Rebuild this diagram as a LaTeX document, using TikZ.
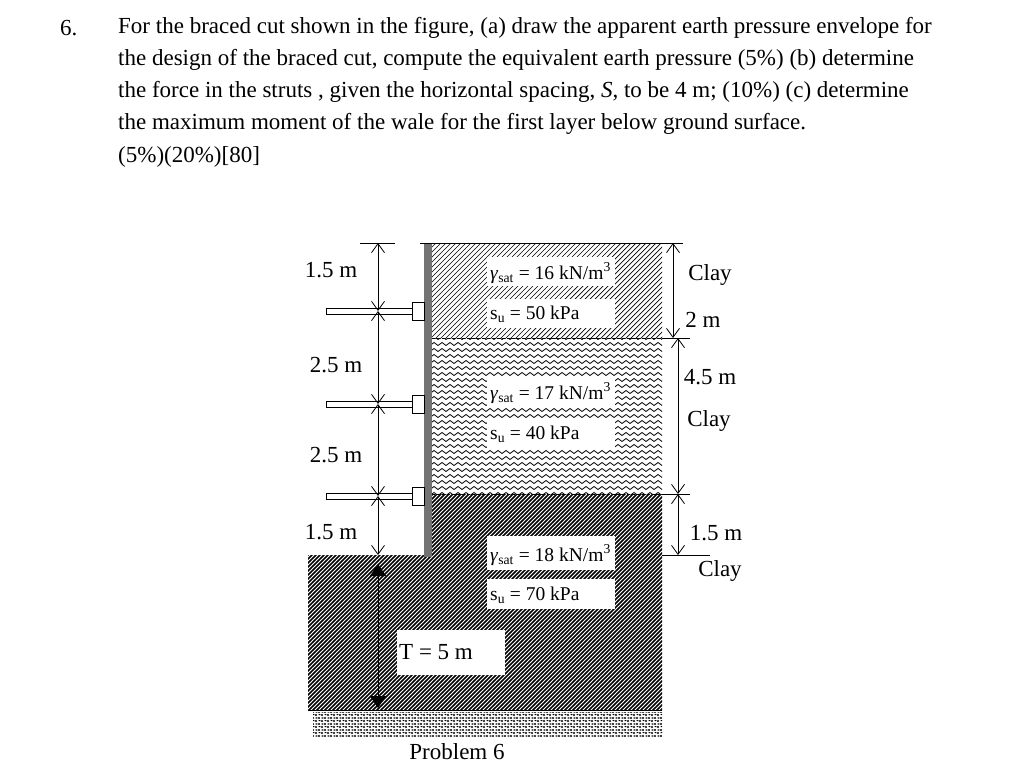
\documentclass[tikz,border=0pt]{standalone}
\usepackage{fontspec}
\setmainfont{Liberation Serif}
\usetikzlibrary{patterns,arrows.meta}
\pgfdeclarepatternformonly{wavy}{\pgfpoint{-1pt}{-1pt}}{\pgfpoint{9pt}{7pt}}{\pgfpoint{8pt}{6pt}}{%
  \pgfsetlinewidth{0.8pt}%
  \pgfpathmoveto{\pgfpoint{0pt}{3pt}}%
  \pgfpathcurveto{\pgfpoint{1.3pt}{5pt}}{\pgfpoint{2.7pt}{5pt}}{\pgfpoint{4pt}{3pt}}%
  \pgfpathcurveto{\pgfpoint{5.3pt}{1pt}}{\pgfpoint{6.7pt}{1pt}}{\pgfpoint{8pt}{3pt}}%
  \pgfusepath{stroke}}
\pgfdeclarepatternformonly{denseNE}{\pgfpoint{-1pt}{-1pt}}{\pgfpoint{5pt}{5pt}}{\pgfpoint{4pt}{4pt}}{%
  \pgfsetlinewidth{1.6pt}%
  \pgfpathmoveto{\pgfpoint{0pt}{0pt}}\pgfpathlineto{\pgfpoint{4.1pt}{4.1pt}}%
  \pgfusepath{stroke}}
\pgfdeclarepatternformonly{lightNE}{\pgfpoint{-1pt}{-1pt}}{\pgfpoint{6pt}{6pt}}{\pgfpoint{5pt}{5pt}}{%
  \pgfsetlinewidth{0.7pt}%
  \pgfpathmoveto{\pgfpoint{0pt}{0pt}}\pgfpathlineto{\pgfpoint{5.1pt}{5.1pt}}%
  \pgfusepath{stroke}}
\pgfdeclarepatternformonly{gravel}{\pgfpoint{-1pt}{-1pt}}{\pgfpoint{7pt}{7pt}}{\pgfpoint{6pt}{6pt}}{%
  \pgfpathcircle{\pgfpoint{1pt}{1pt}}{1.2pt}%
  \pgfpathcircle{\pgfpoint{4pt}{4pt}}{1.2pt}%
  \pgfpathrectangle{\pgfpoint{3.5pt}{0.5pt}}{\pgfpoint{1.8pt}{1.2pt}}%
  \pgfpathrectangle{\pgfpoint{0.5pt}{3.8pt}}{\pgfpoint{1.8pt}{1.2pt}}%
  \pgfusepath{fill}}
\newcommand{\lbox}[1]{\makebox[122pt][l]{#1}}
\tikzset{
  para/.style={anchor=west,inner sep=0pt,font=\fontsize{23}{28}\selectfont},
  lbl/.style={inner sep=0pt,font=\fontsize{23}{28}\selectfont},
  wbox/.style={fill=white,anchor=west,inner xsep=3pt,inner ysep=0pt,minimum height=29pt,text depth=0pt,font=\fontsize{19.5}{22}\selectfont},
  dim/.style={{Straight Barb[length=9pt,width=13pt]}-{Straight Barb[length=9pt,width=13pt]},line width=0.8pt},
  rod/.style={draw,fill=white,line width=0.9pt},
}
\begin{document}
\begin{tikzpicture}[x=1pt,y=-1pt]
\useasboundingbox (0,0) rectangle (1024,779);
% text
\node[para] (n6) at (60,28) {6.};
\node[para] (l1) at (118,28) {For the braced cut shown in the figure, (a) draw the apparent earth pressure envelope for};
\node[para] (l2) at (118,60) {the design of the braced cut, compute the equivalent earth pressure (5\%) (b) determine};
\node[para] (l3) at (118,92) {the force in the struts , given the horizontal spacing, \textit{S}, to be 4 m; (10\%) (c) determine};
\node[para] (l4) at (118,124) {the maximum moment of the wale for the first layer below ground surface.};
\node[para] (l5) at (118,157) {(5\%)(20\%)[80]};
% soil
\fill[pattern=lightNE] (432,243) rectangle (662,338);
\fill[pattern=wavy] (432,338) rectangle (662,494);
\fill[pattern=denseNE] (432,494) rectangle (662,710);
\fill[pattern=denseNE] (308,555) rectangle (432,710);
\fill[pattern=gravel] (313,712) rectangle (662,737);
\draw[line width=0.5pt,densely dashed] (432,338) -- (662,338);
\draw[line width=0.5pt,densely dashed] (432,494) -- (662,494);
\draw[line width=0.6pt] (308,710) -- (662,710);
% wall
\fill[black!55] (424,243) rectangle (432,557);
% struts
\foreach \yy in {311,404,496}{
  \draw[rod] (326,\yy-3) rectangle (412,\yy+3);
  \draw[rod] (412,\yy-9) rectangle (424,\yy+9);
}
% top lines
\draw[line width=0.9pt] (420,243) -- (683,243);
\draw[line width=0.9pt] (360,243) -- (395,243);
\draw[line width=0.9pt] (662,338) -- (690,338);
\draw[line width=0.9pt] (662,494) -- (690,494);
\draw[line width=0.9pt] (662,555) -- (710,555);
% left dims
\coordinate (d0) at (378,243); \coordinate (d1) at (378,311);
\coordinate (d2) at (378,404); \coordinate (d3) at (378,496);
\coordinate (d4) at (378,555);
\draw[dim] (d0) -- (d1); \draw[dim] (d1) -- (d2);
\draw[dim] (d2) -- (d3); \draw[dim] (d3) -- (d4);
\node[lbl] (la) at (331,270) {1.5 m};
\node[lbl] (lb) at (336,365) {2.5 m};
\node[lbl] (lc) at (336,455) {2.5 m};
\node[lbl] (ld) at (331,532) {1.5 m};
% T arrow
\coordinate (t0) at (378,564); \coordinate (t1) at (378,708);
\draw[{Triangle[length=12pt,width=16pt]}-{Triangle[length=12pt,width=16pt]},line width=1pt] (t0) -- (t1);
\node[lbl,fill=white,anchor=west,minimum height=45pt,inner xsep=2pt,text depth=0pt] (T) at (397,652) {\makebox[104pt][l]{T = 5 m}};
% right dims
\coordinate (r0) at (673,243); \coordinate (r1) at (673,338);
\coordinate (s0) at (678,338); \coordinate (s1) at (678,494);
\coordinate (s2) at (678,555);
\draw[dim] (r0) -- (r1); \draw[dim] (s0) -- (s1); \draw[dim] (s1) -- (s2);
\node[lbl] (c1) at (710,275) {Clay};
\node[lbl] (m2) at (703,320) {2 m};
\node[lbl] (m45) at (710,377) {4.5 m};
\node[lbl] (c2) at (709,421) {Clay};
\node[lbl] (m15) at (716,533) {1.5 m};
\node[lbl] (c3) at (720,571) {Clay};
% white boxes
\node[wbox] (g1) at (487,271) {\lbox{\textit{γ}\textsubscript{sat} = 16 kN/m\textsuperscript{3}}};
\node[wbox] (s1n) at (487,313) {\lbox{s\textsubscript{u} = 50 kPa}};
\node[wbox] (g2) at (487,391) {\lbox{\textit{γ}\textsubscript{sat} = 17 kN/m\textsuperscript{3}}};
\node[wbox] (s2n) at (487,433) {\lbox{s\textsubscript{u} = 40 kPa}};
\node[wbox,minimum height=34pt] (g3) at (487,553) {\lbox{\textit{γ}\textsubscript{sat} = 18 kN/m\textsuperscript{3}}};
\node[wbox,minimum height=30pt] (s3n) at (487,594) {\lbox{s\textsubscript{u} = 70 kPa}};
\node[lbl] (cap) at (457,752) {Problem 6};
\end{tikzpicture}
\end{document}
